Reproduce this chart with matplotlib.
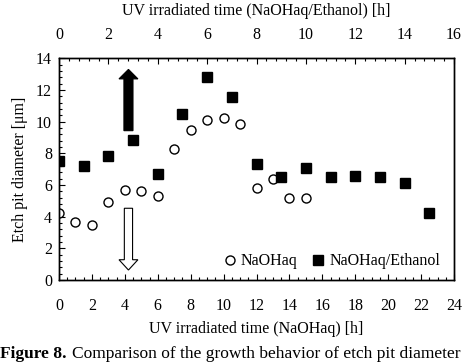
import matplotlib
matplotlib.use("Agg")
import matplotlib.pyplot as plt
from matplotlib.ticker import MultipleLocator
from matplotlib.patches import FancyArrow

plt.rcParams['font.family'] = ['Liberation Serif', 'DejaVu Serif']

# NaOHaq (bottom axis, h)
naoh_t = [0, 1, 2, 3, 4, 5, 6, 7, 8, 9, 10, 11, 12, 13, 14, 15]
naoh_d = [4.2, 3.65, 3.5, 4.9, 5.7, 5.6, 5.3, 8.3, 9.5, 10.1, 10.2, 9.85, 5.8, 6.4, 5.15, 5.2]
# NaOHaq/Ethanol (top axis, h)
eth_t = [0, 1, 2, 3, 4, 5, 6, 7, 8, 9, 10, 11, 12, 13, 14, 15]
eth_d = [7.5, 7.2, 7.8, 8.85, 6.7, 10.5, 12.8, 11.55, 7.3, 6.5, 7.1, 6.5, 6.55, 6.5, 6.1, 4.2]

fig = plt.figure(figsize=(4.74, 3.63), dpi=100)
ax = fig.add_axes([59/474, 1-280/363, (454-59)/474, (280-58.3)/363])
ax2 = ax.twiny()

ax.plot(naoh_t, naoh_d, 'o', mfc='white', mec='black', mew=1.0, ms=6.5, label='NaOHaq', ls='none')
ax2.plot(eth_t, eth_d, 's', mfc='black', mec='black', ms=6.5, label='NaOHaq/Ethanol', ls='none')

ax.set_xlim(0, 24)
ax.set_ylim(0, 14)
ax2.set_xlim(0, 16)

ax.xaxis.set_major_locator(MultipleLocator(2))
ax.xaxis.set_minor_locator(MultipleLocator(0.5))
ax.yaxis.set_major_locator(MultipleLocator(2))
ax.yaxis.set_minor_locator(MultipleLocator(0.4))
ax2.xaxis.set_major_locator(MultipleLocator(2))
ax2.xaxis.set_minor_locator(MultipleLocator(0.4))

for a in (ax, ax2):
    a.tick_params(which='both', direction='in', labelsize=11.5, width=0.8, color='black')
    a.tick_params(which='major', length=4)
    a.tick_params(which='minor', length=2.5)
    for s in a.spines.values():
        s.set_linewidth(1.0)
ax.tick_params(axis='x', pad=13)
ax2.tick_params(axis='x', pad=11)
ax.tick_params(axis='y', pad=5)

ax.set_xlabel('UV irradiated time (NaOHaq) [h]', fontsize=11.5, labelpad=5)
ax2.set_xlabel('UV irradiated time (NaOHaq/Ethanol) [h]', fontsize=11.5, labelpad=9)
ax.set_ylabel('Etch pit diameter [μm]', fontsize=11.5, labelpad=6)

# arrows
ax.add_patch(FancyArrow(4.22, 9.43, 0, 13.3 - 9.43, width=0.55, head_width=1.15,
                        head_length=0.6, length_includes_head=True,
                        fc='black', ec='black', lw=0.8, zorder=5))
ax.add_patch(FancyArrow(4.22, 4.53, 0, 0.63 - 4.53, width=0.5, head_width=1.15,
                        head_length=0.65, length_includes_head=True,
                        fc='white', ec='black', lw=0.8, zorder=5))

h1, l1 = ax.get_legend_handles_labels()
h2, l2 = ax2.get_legend_handles_labels()
ax.legend(h1 + h2, l1 + l2, ncol=2, frameon=False, fontsize=11.5,
          loc='lower right', bbox_to_anchor=(0.99, 0.005),
          handlelength=0.6, handletextpad=0.4, columnspacing=1.0, borderaxespad=0.2)

cy = 1 - 354/363
fig.text(0.0, cy, 'Figure 8.', fontsize=12.5, fontweight='bold', va='center', ha='left')
fig.text(72/474, cy, 'Comparison of the growth behavior of etch pit diameter',
         fontsize=12.5, va='center', ha='left')

fig.savefig('out.png', dpi=100)
